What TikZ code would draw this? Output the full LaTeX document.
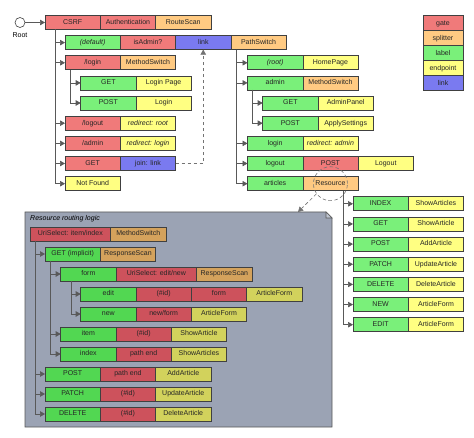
\documentclass[tikz,border=0pt]{standalone}
\usepackage{fontspec}
\setmainfont{Liberation Sans}
\usetikzlibrary{positioning,arrows.meta}

\definecolor{cGate}{RGB}{240,122,122}
\definecolor{cSplit}{RGB}{255,202,130}
\definecolor{cLabel}{RGB}{122,240,122}
\definecolor{cEnd}{RGB}{255,255,130}
\definecolor{cLink}{RGB}{122,122,240}
\definecolor{dGate}{RGB}{205,82,92}
\definecolor{dSplit}{RGB}{212,162,92}
\definecolor{dLabel}{RGB}{82,215,82}
\definecolor{dEnd}{RGB}{210,210,92}
\definecolor{ctxfill}{RGB}{155,163,180}
\definecolor{ctxfold}{RGB}{190,196,208}

\tikzset{
  box/.style={draw=black!75, line width=0.6pt, minimum width=55.3pt, minimum height=14pt,
    inner sep=0pt, outer sep=0pt, text height=5.2pt, text depth=1.5pt,
    font=\fontsize{7}{8}\selectfont, text=black!85},
  wide/.style={minimum width=80.7pt},
  gatebox/.style={box, fill=cGate},
  splitbox/.style={box, fill=cSplit},
  labelbox/.style={box, fill=cLabel},
  endbox/.style={box, fill=cEnd},
  linkbox/.style={box, fill=cLink},
  dgatebox/.style={box, fill=dGate},
  dsplitbox/.style={box, fill=dSplit},
  dlabelbox/.style={box, fill=dLabel},
  dendbox/.style={box, fill=dEnd},
  legendbox/.style={minimum width=40pt, minimum height=15pt},
  it/.style={font=\fontsize{7}{8}\selectfont\itshape},
  tree/.style={draw=black!65, line width=0.6pt, -{Triangle[length=5pt,width=5.5pt]}},
  jump/.style={draw=black!55, line width=0.6pt, dash pattern=on 3.5pt off 2.5pt},
}

\begin{document}
\begin{tikzpicture}[x=1pt,y=-1pt]
\useasboundingbox (0,0) rectangle (474,438);

% legend
\node[gatebox, legendbox] (lgGate) at (443,23.2) {gate};
\node[splitbox, legendbox, below=0pt of lgGate] (lgSplit) {splitter};
\node[labelbox, legendbox, below=0pt of lgSplit] (lgLabel) {label};
\node[endbox, legendbox, below=0pt of lgLabel] (lgEnd) {endpoint};
\node[linkbox, legendbox, below=0pt of lgEnd] (lgLink) {link};

% root
\node[circle, draw=black!75, line width=0.6pt, minimum size=10pt, inner sep=0pt] (root) at (20,22.5) {};
\node[font=\fontsize{7}{8}\selectfont, below=1pt of root] (rootTxt) {Root};

\node[gatebox, anchor=west] (csrf) at (45,22.5) {CSRF};
\node[gatebox, right=0pt of csrf] (auth) {Authentication};
\node[splitbox, right=0pt of auth] (rscan) {RouteScan};

% left branch
\node[labelbox, it, anchor=west] (dflt) at (65,42.6) {(default)};
\node[gatebox, right=0pt of dflt] (isAdmin) {isAdmin?};
\node[linkbox, right=0pt of isAdmin] (link) {link};
\node[splitbox, right=0pt of link] (pswitch) {PathSwitch};

\node[gatebox, anchor=west] (login) at (65,62.8) {/login};
\node[splitbox, right=0pt of login] (loginMS) {MethodSwitch};
\node[labelbox, anchor=west] (loginGet) at (80.7,82.9) {GET};
\node[endbox, right=0pt of loginGet] (loginPage) {Login Page};
\node[labelbox, anchor=west] (loginPost) at (80.7,103) {POST};
\node[endbox, right=0pt of loginPost] (loginDo) {Login};

\node[gatebox, anchor=west] (logout) at (65,123.2) {/logout};
\node[endbox, it, right=0pt of logout] (redRoot) {redirect: root};
\node[gatebox, anchor=west] (admin) at (65,143.4) {/admin};
\node[endbox, it, right=0pt of admin] (redLogin) {redirect: login};
\node[gatebox, anchor=west] (getJ) at (65,163.5) {GET};
\node[linkbox, right=0pt of getJ] (joinLink) {join: link};
\node[endbox, anchor=west] (notFound) at (65,183.7) {Not Found};

% right branch
\node[labelbox, it, anchor=west] (rootPath) at (247.5,62.8) {(root)};
\node[endbox, right=0pt of rootPath] (home) {HomePage};
\node[labelbox, anchor=west] (adm) at (247.5,82.9) {admin};
\node[splitbox, right=0pt of adm] (admMS) {MethodSwitch};
\node[labelbox, anchor=west] (admGet) at (262.7,103) {GET};
\node[endbox, right=0pt of admGet] (admPanel) {AdminPanel};
\node[labelbox, anchor=west] (admPost) at (262.7,123.2) {POST};
\node[endbox, right=0pt of admPost] (admSet) {ApplySettings};
\node[labelbox, anchor=west] (login2) at (247.5,143.4) {login};
\node[endbox, it, right=0pt of login2] (redAdmin) {redirect: admin};
\node[labelbox, anchor=west] (logout2) at (247.5,163.5) {logout};
\node[gatebox, right=0pt of logout2] (logoutPost) {POST};
\node[endbox, right=0pt of logoutPost] (logoutDo) {Logout};
\node[labelbox, anchor=west] (arts) at (247.5,183.7) {articles};
\node[splitbox, right=0pt of arts] (resource) {Resource};

% resource routes
\foreach \n/\m/\e [count=\i from 0] in {idx/INDEX/ShowArticles, get/GET/ShowArticle,
    post/POST/AddArticle, patch/PATCH/UpdateArticle, del/DELETE/DeleteArticle,
    new/NEW/ArticleForm, edit/EDIT/ArticleForm} {
  \node[labelbox, anchor=west] (r\n) at (353,203.8+20.15*\i) {\m};
  \node[endbox, right=0pt of r\n] (r\n E) {\e};
}

% resource routing logic
\draw[draw=black!65, line width=0.8pt, fill=ctxfill] (25,212) -- (326,212) -- (332,218) -- (332,427) -- (25,427) -- cycle;
\draw[draw=black!65, line width=0.6pt, fill=ctxfold] (326,212) -- (326,218) -- (332,218) -- cycle;
\coordinate (ctxTop) at (298,212);
\node[it, anchor=west, inner sep=0pt] (ctxTitle) at (30,218.5) {Resource routing logic};

\node[dgatebox, wide, anchor=west] (usel) at (30,234) {UriSelect: item/index};
\node[dsplitbox, right=0pt of usel] (uselMS) {MethodSwitch};
\node[dlabelbox, anchor=west] (gImp) at (45,254) {GET (implicit)};
\node[dsplitbox, right=0pt of gImp] (gImpRS) {ResponseScan};
\node[dlabelbox, anchor=west] (form) at (60.7,274) {form};
\node[dgatebox, wide, right=0pt of form] (usel2) {UriSelect: edit/new};
\node[dsplitbox, right=0pt of usel2] (formRS) {ResponseScan};
\node[dlabelbox, anchor=west] (fEdit) at (80.7,294) {edit};
\node[dgatebox, right=0pt of fEdit] (fEditId) {(\#id)};
\node[dgatebox, right=0pt of fEditId] (fEditForm) {form};
\node[dendbox, right=0pt of fEditForm] (fEditAF) {ArticleForm};
\node[dlabelbox, anchor=west] (fNew) at (80.7,314) {new};
\node[dgatebox, right=0pt of fNew] (fNewForm) {new/form};
\node[dendbox, right=0pt of fNewForm] (fNewAF) {ArticleForm};
\node[dlabelbox, anchor=west] (gItem) at (60.7,334) {item};
\node[dgatebox, right=0pt of gItem] (gItemId) {(\#id)};
\node[dendbox, right=0pt of gItemId] (gItemSA) {ShowArticle};
\node[dlabelbox, anchor=west] (gIndex) at (60.7,354) {index};
\node[dgatebox, right=0pt of gIndex] (gIndexPE) {path end};
\node[dendbox, right=0pt of gIndexPE] (gIndexSA) {ShowArticles};
\node[dlabelbox, anchor=west] (mPost) at (45,374) {POST};
\node[dgatebox, right=0pt of mPost] (mPostPE) {path end};
\node[dendbox, right=0pt of mPostPE] (mPostAA) {AddArticle};
\node[dlabelbox, anchor=west] (mPatch) at (45,394) {PATCH};
\node[dgatebox, right=0pt of mPatch] (mPatchId) {(\#id)};
\node[dendbox, right=0pt of mPatchId] (mPatchUA) {UpdateArticle};
\node[dlabelbox, anchor=west] (mDel) at (45,414) {DELETE};
\node[dgatebox, right=0pt of mDel] (mDelId) {(\#id)};
\node[dendbox, right=0pt of mDelId] (mDelDA) {DeleteArticle};

% tree connectors
\draw[tree] (root) -- (csrf);
\coordinate (tTop) at ([xshift=10]csrf.south west);
\foreach \c in {dflt,login,logout,admin,getJ,notFound}
  \draw[tree] (tTop) |- (\c.west);
\coordinate (tLogin) at ([xshift=5.7]login.south west);
\foreach \c in {loginGet,loginPost}
  \draw[tree] (tLogin) |- (\c.west);
\coordinate (tPath) at ([xshift=5.7]pswitch.south west);
\foreach \c in {rootPath,adm,login2,logout2,arts}
  \draw[tree] (tPath) |- (\c.west);
\coordinate (tAdm) at ([xshift=5.2]adm.south west);
\foreach \c in {admGet,admPost}
  \draw[tree] (tAdm) |- (\c.west);
\coordinate (tRes) at ([xshift=-14.8]resource.south east);
\foreach \c in {ridx,rget,rpost,rpatch,rdel,rnew,redit}
  \draw[tree] (tRes) |- (\c.west);
\coordinate (tUsel) at ([xshift=5]usel.south west);
\foreach \c in {gImp,mPost,mPatch,mDel}
  \draw[tree] (tUsel) |- (\c.west);
\coordinate (tImp) at ([xshift=5]gImp.south west);
\foreach \c in {form,gItem,gIndex}
  \draw[tree] (tImp) |- (\c.west);
\coordinate (tForm) at ([xshift=11]form.south west);
\foreach \c in {fEdit,fNew}
  \draw[tree] (tForm) |- (\c.west);

% jumps
\draw[jump, -{Triangle[length=5pt,width=5.5pt]}] (joinLink.east) -| (link.south);
\node[circle, jump, minimum size=34pt, inner sep=0pt] (resRing) at (resource.center) {};
\draw[jump, -{Triangle[length=5pt,width=5.5pt]}] (resRing.216) -- (ctxTop);

\end{tikzpicture}
\end{document}
